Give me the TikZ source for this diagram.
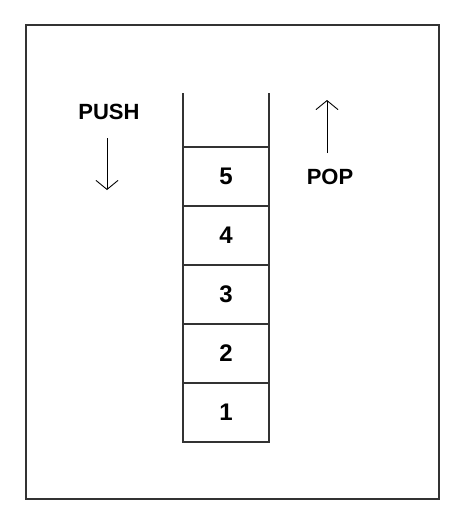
\documentclass[tikz,border=0pt]{standalone}
\usepackage{fontspec}
\setmainfont{Liberation Sans}
\usetikzlibrary{arrows.meta}
\begin{document}
\begin{tikzpicture}[x=1pt,y=-1pt,
  cell/.style={draw=black!80,line width=1.4pt,outer sep=0pt,minimum width=86pt,minimum height=59pt,inner sep=0pt,font=\fontsize{24}{24}\selectfont\bfseries},
  lbl/.style={font=\fontsize{22}{22}\selectfont\bfseries,inner sep=0pt},
  arr/.style={line width=0.9pt,-{Straight Barb[length=9pt,width=22pt,line width=0.9pt]}}]
\useasboundingbox (0,0) rectangle (474,515);
\node[draw=black!80,line width=2pt,minimum width=413pt,minimum height=474pt,inner sep=0pt] (frame) at (232.5,262) {};
\node[cell] (c1) at (226,412.5) {1};
\node[cell] (c2) at (226,353.5) {2};
\node[cell] (c3) at (226,294.5) {3};
\node[cell] (c4) at (226,235.5) {4};
\node[cell] (c5) at (226,176.5) {5};
\coordinate (tl) at (183,93);
\coordinate (tr) at (269,93);
\draw[black!80,line width=1.4pt] (c5.north west) -- (tl);
\draw[black!80,line width=1.4pt] (c5.north east) -- (tr);
\node[lbl] (push) at (109,111.5) {PUSH};
\node[lbl] (pop) at (330,177) {POP};
\coordinate (pushs) at (107,138);
\coordinate (pushe) at (107,190);
\coordinate (pops) at (327,153);
\coordinate (pope) at (327,100);
\draw[arr] (pushs) -- (pushe);
\draw[arr] (pops) -- (pope);
\end{tikzpicture}
\end{document}
